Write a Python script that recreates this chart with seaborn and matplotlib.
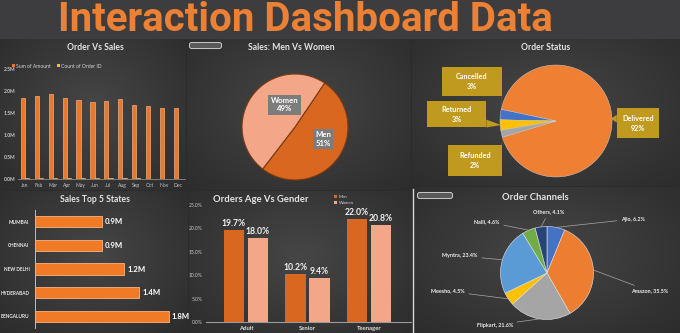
import numpy as np
import pandas as pd
import matplotlib
matplotlib.use("Agg")
import matplotlib.pyplot as plt
import seaborn as sns
from matplotlib.patches import Rectangle, Polygon, FancyBboxPatch
from matplotlib.ticker import FuncFormatter, FixedLocator

# ---------------- data ----------------
months = ["Jan", "Feb", "Mar", "Apr", "May", "Jun", "Jul", "Aug", "Sep", "Oct", "Nov", "Dec"]
sum_of_amount = [1.83, 1.88, 1.93, 1.83, 1.80, 1.75, 1.78, 1.81, 1.69, 1.67, 1.62, 1.62]   # millions
count_of_orders = [12400, 12700, 13100, 12400, 12200, 11800, 12000, 12300, 11400, 11300, 10900, 10900]

gender_labels = ["Men", "Women"]
gender_share = [51, 49]

status_labels = ["Delivered", "Cancelled", "Returned", "Refunded"]
status_share = [92, 3, 3, 2]

states = ["MUMBAI", "CHENNAI", "NEW DELHI", "HYDERABAD", "BENGALURU"]
state_sales = [0.9, 0.9, 1.2, 1.4, 1.8]   # millions

age_groups = ["Adult", "Senior", "Teenager"]
men_orders = [19.7, 10.2, 22.0]
women_orders = [18.0, 9.4, 20.8]

channels = ["Ajio", "Amazon", "Flipkart", "Meesho", "Myntra", "Nalli", "Others"]
channel_share = [6.2, 35.5, 21.6, 4.5, 23.4, 4.6, 4.1]

# ---------------- styling ----------------
ORANGE = "#e8782c"
ORANGE_EDGE = "#f3ad7c"
DARK_ORANGE = "#d9671f"
LIGHT_SALMON = "#f4a688"
GOLD = "#c09a1f"
TITLE_COL = "#e4e4e4"
TICK_COL = "#c8c8c8"

plt.rcParams["font.family"] = ["Lato", "DejaVu Sans"]

W, H = 680, 333
fig = plt.figure(figsize=(W / 100, H / 100), dpi=100, facecolor="#2b2b2b")


def fx(x):
    return x / W


def fy(y):
    return 1 - y / H


def box_axes(x0, y0, x1, y1):
    ax = fig.add_axes([fx(x0), fy(y1), (x1 - x0) / W, (y1 - y0) / H])
    ax.patch.set_alpha(0)
    return ax


# ---------------- background ----------------
bg = fig.add_axes([0, 0, 1, 1], zorder=-5)
bg.set_xlim(0, W)
bg.set_ylim(H, 0)
bg.axis("off")


def hex_rgb(h):
    h = h.lstrip("#")
    return np.array([int(h[i:i + 2], 16) / 255 for i in (0, 2, 4)])


def panel(x0, y0, x1, y1, inner="#464646", outer="#2c2c2c"):
    h, w = int(y1 - y0), int(x1 - x0)
    yy, xx = np.mgrid[0:1:h * 1j, 0:1:w * 1j]
    d = np.sqrt(((xx - 0.5) / 0.5) ** 2 + ((yy - 0.45) / 0.55) ** 2) / np.sqrt(2)
    d = np.clip(d, 0, 1)[..., None]
    rgb = hex_rgb(inner) * (1 - d) + hex_rgb(outer) * d
    bg.imshow(rgb, extent=(x0, x1, y1, y0), interpolation="bilinear", aspect="auto", zorder=0)


bg.add_patch(Rectangle((0, 0), W, 38, color="#3d3d3f", zorder=0))
panel(0, 39, 186, 190)
panel(187, 39, 411, 190)
panel(412, 39, 680, 186)
panel(0, 191, 188, 333)
panel(189, 191, 412, 333)
panel(414, 187, 680, 333)
bg.plot([413, 413], [189, 333], color="#d8d8d8", lw=1.0, zorder=1)
bg.set_xlim(0, W)
bg.set_ylim(H, 0)

# slicer buttons
for (x0, y0, w, h) in [(190, 43, 31, 5), (418, 193, 34, 5)]:
    bg.add_patch(FancyBboxPatch((x0, y0), w, h, boxstyle="round,pad=0.6,rounding_size=2.5",
                                fc="#5a5a5a", ec="#e0e0e0", lw=0.6, zorder=2))

fig.text(fx(305), fy(20), "Interaction Dashboard Data", family=["Roboto", "DejaVu Sans"],
         fontsize=29, fontweight="bold", color="#ec8034", ha="center", va="center")

title_kw = dict(fontsize=6.2, fontweight="bold", color=TITLE_COL, ha="center", va="center")
fig.text(fx(95), fy(47), "Order Vs Sales", **title_kw)
fig.text(fx(291), fy(48), "Sales: Men Vs Women", **title_kw)
fig.text(fx(546), fy(47), "Order Status", **title_kw)
fig.text(fx(95), fy(199), "Sales Top 5 States", **title_kw)
fig.text(fx(213), fy(200), "Orders Age Vs Gender", **{**title_kw, "ha": "left", "fontsize": 6.8})
fig.text(fx(535), fy(198), "Order Channels", **{**title_kw, "fontsize": 6.8})


def clean(ax):
    for s in ax.spines.values():
        s.set_visible(False)
    ax.tick_params(length=0, colors=TICK_COL, labelsize=3.6, pad=2)
    ax.set_xlabel("")
    ax.set_ylabel("")


# ---------------- Order Vs Sales ----------------
ax1 = box_axes(18, 69, 185, 179)
df_month = pd.DataFrame({
    "Month": months * 2,
    "Value": sum_of_amount + [c / 1e6 for c in count_of_orders],
    "Series": ["Sum of Amount"] * 12 + ["Count of Order ID"] * 12,
})
sns.barplot(data=df_month, x="Month", y="Value", hue="Series", palette=[ORANGE, "#e8c33c"],
            width=0.6, saturation=1, edgecolor=ORANGE_EDGE, linewidth=0.5, ax=ax1, legend=False)
ax1.set_ylim(0, 2.5)
ax1.set_xlim(-0.5, 11.5)
ax1.yaxis.set_major_locator(FixedLocator([0, 0.5, 1.0, 1.5, 2.0, 2.5]))
ax1.yaxis.set_major_formatter(FuncFormatter(lambda v, p: f"{v:.1f}M"))
clean(ax1)
for lab in ax1.get_yticklabels():
    lab.set_fontweight("bold")
ax1.spines["bottom"].set_visible(True)
ax1.spines["bottom"].set_color("#8a8a8a")
ax1.spines["bottom"].set_linewidth(0.6)
ax1.tick_params(axis="x", pad=3)
h1 = [Rectangle((0, 0), 1, 1, fc=ORANGE), Rectangle((0, 0), 1, 1, fc="#e8c33c")]
ax1.legend(h1, ["Sum of Amount", "Count of Order ID"], loc="center left",
           bbox_to_anchor=(fx(9), fy(66)), bbox_transform=fig.transFigure, ncol=2, frameon=False,
           fontsize=3.6, labelcolor="#d8d8d8", handlelength=0.6, handleheight=0.6,
           handletextpad=0.3, columnspacing=1.2, borderpad=0)

# ---------------- Sales: Men Vs Women ----------------
def pie_axes(panel_box, cx, cy, r):
    x0, y0, x1, y1 = panel_box
    ax = box_axes(x0, y0, x1, y1)
    return ax, ((x0 - cx) / r, (x1 - cx) / r), ((cy - y1) / r, (cy - y0) / r)


ax2, xl2, yl2 = pie_axes((187, 55, 411, 190), 295, 127, 53)
ax2.pie(gender_share, colors=[DARK_ORANGE, LIGHT_SALMON], startangle=56, counterclock=False,
        wedgeprops=dict(edgecolor="#7a3a12", linewidth=0.8))
ax2.set_xlim(*xl2)
ax2.set_ylim(*yl2)
ax2.set_aspect("auto")
for lab, val, (tx, ty) in zip(gender_labels, gender_share, [(0.53, -0.23), (-0.2, 0.42)]):
    ax2.text(tx, ty, f"{lab}\n{val}%", ha="center", va="center", fontsize=5.6, fontweight="bold",
             color="white", linespacing=1.25,
             bbox=dict(boxstyle="square,pad=0.3", fc="#7c7c7c", ec="none"))
    ax2.plot(tx - 0.5 if lab == "Women" else tx - 0.3, ty + 0.06,
             marker="s", ms=1.2, color=DARK_ORANGE if lab == "Men" else LIGHT_SALMON, mew=0)

# ---------------- Order Status ----------------
ax3, xl3, yl3 = pie_axes((412, 55, 680, 186), 556, 121, 56)
wedges3, _ = ax3.pie(status_share, colors=["#ee7f33", "#4472c4", "#ffc000", "#a5a5a5"],
                     startangle=168 - 3.6 * status_share[0], counterclock=True,
                     wedgeprops=dict(edgecolor="#d8d8d8", linewidth=0.3))
ax3.set_xlim(*xl3)
ax3.set_ylim(*yl3)
ax3.set_aspect("auto")
# callout boxes (centre, width, height) in pie units
callouts = [(1.46, -0.04, 0.75, 0.54), (-1.5, 0.71, 1.07, 0.52),
            (-1.77, 0.125, 1.05, 0.48), (-1.45, -0.71, 0.96, 0.55)]
for w, lab, val, (bx, by, bw, bh) in zip(wedges3, status_labels, status_share, callouts):
    ang = np.deg2rad((w.theta1 + w.theta2) / 2)
    tip = (0.98 * np.cos(ang), 0.98 * np.sin(ang))
    edge_x = bx - bw / 2 if bx > 0 else bx + bw / 2
    yc = np.clip(tip[1], by - bh / 2 + 0.07, by + bh / 2 - 0.07)
    ax3.add_patch(Polygon([tip, (edge_x, yc - 0.07), (edge_x, yc + 0.07)], closed=True,
                          fc=GOLD, ec="none", clip_on=False))
    ax3.add_patch(Rectangle((bx - bw / 2, by - bh / 2), bw, bh, fc=GOLD, ec="none", clip_on=False))
    ax3.text(bx, by, f"{lab}\n{val}%", ha="center", va="center", fontsize=5.2, fontweight="bold",
             color="white", linespacing=1.5)

# ---------------- Sales Top 5 States ----------------
ax4 = box_axes(35, 210, 184, 328)
df_states = pd.DataFrame({"State": states, "Sales": state_sales})
sns.barplot(data=df_states, y="State", x="Sales", orient="h", color="#f07a26", saturation=1,
            width=0.47, edgecolor="#f8b585", linewidth=0.6, ax=ax4)
ax4.set_xlim(0, 2.0)
ax4.set_ylim(4.5, -0.5)
clean(ax4)
ax4.set_xticks([])
ax4.spines["left"].set_visible(True)
ax4.spines["left"].set_color("#bdbdbd")
ax4.spines["left"].set_linewidth(0.7)
ax4.tick_params(axis="y", labelsize=3.4, pad=4)
for lab in ax4.get_yticklabels():
    lab.set_fontweight("bold")
    lab.set_color("#e8e8e8")
ax4.bar_label(ax4.containers[0], fmt="%.1fM", padding=2, fontsize=5.6, fontweight="bold",
              color="white")

# ---------------- Orders Age Vs Gender ----------------
ax5 = box_axes(215, 205, 400, 322)
df_age = pd.DataFrame({
    "Age": age_groups * 2,
    "Share": men_orders + women_orders,
    "Gender": ["Men"] * 3 + ["Women"] * 3,
})
sns.barplot(data=df_age, x="Age", y="Share", hue="Gender", palette=[DARK_ORANGE, LIGHT_SALMON],
            width=0.78, gap=0.15, saturation=1, ax=ax5, legend=False)
ax5.set_ylim(0, 25)
ax5.set_xlim(-0.5, 2.5)
ax5.yaxis.set_major_locator(FixedLocator([0, 5, 10, 15, 20, 25]))
ax5.yaxis.set_major_formatter(FuncFormatter(lambda v, p: f"{v:.1f}%"))
clean(ax5)
ax5.tick_params(axis="y", pad=9)
ax5.tick_params(axis="x", labelsize=4.2, pad=3)
for lab in ax5.get_xticklabels():
    lab.set_fontweight("bold")
    lab.set_color("#e0e0e0")
ax5.axhline(0, xmin=-0.05, xmax=1.06, color="#9a9a9a", lw=0.8, clip_on=False)
for cont in ax5.containers:
    ax5.bar_label(cont, fmt="%.1f%%", padding=1.5, fontsize=6.2, fontweight="bold", color="#f2f2f2")
h5 = [Rectangle((0, 0), 1, 1, fc=DARK_ORANGE), Rectangle((0, 0), 1, 1, fc=LIGHT_SALMON)]
ax5.legend(h5, gender_labels, loc="upper left", bbox_to_anchor=(fx(332), fy(193)),
           bbox_transform=fig.transFigure, frameon=False, fontsize=3.2, labelcolor="#d8d8d8",
           handlelength=0.6, handleheight=0.6, handletextpad=0.4, labelspacing=0.5, borderpad=0)

# ---------------- Order Channels ----------------
ax6, xl6, yl6 = pie_axes((414, 205, 680, 333), 547, 273, 46.5)
chan_colors = ["#4472c4", "#ed7d31", "#a5a5a5", "#ffc000", "#5b9bd5", "#70ad47", "#264478"]
wedges6, _ = ax6.pie(channel_share, colors=chan_colors, startangle=90, counterclock=False,
                     wedgeprops=dict(edgecolor="#e6e6e6", linewidth=0.4))
ax6.set_xlim(*xl6)
ax6.set_ylim(*yl6)
ax6.set_aspect("auto")
label_pos = [(1.85, 1.16), (2.21, -0.39), (-1.12, -1.12), (-2.13, -0.39),
             (-1.87, 0.37), (-1.29, 1.10), (0.04, 1.31)]
for w, lab, val, (lx, ly) in zip(wedges6, channels, channel_share, label_pos):
    ang = np.deg2rad((w.theta1 + w.theta2) / 2)
    ax6.annotate(f"{lab}, {val}%", xy=(np.cos(ang), np.sin(ang)), xytext=(lx, ly),
                 ha="center", va="center", fontsize=3.9, fontweight="bold", color="#eeeeee",
                 annotation_clip=False,
                 arrowprops=dict(arrowstyle="-", color="#a8a8a8", lw=0.5, shrinkA=1, shrinkB=0))

fig.savefig("out.png", dpi=100, facecolor=fig.get_facecolor())
